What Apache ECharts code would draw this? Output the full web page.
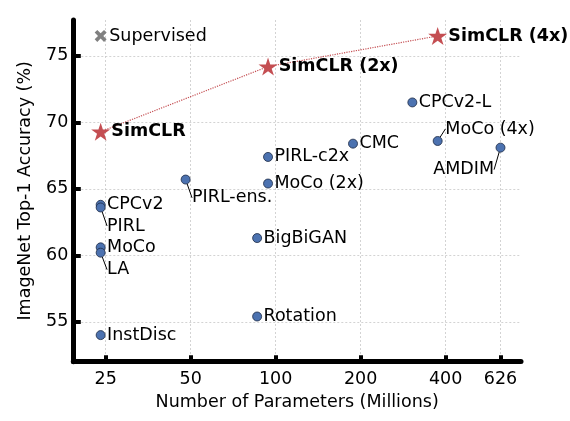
<!DOCTYPE html>
<html>
<head>
<meta charset="utf-8">
<script src="https://cdn.jsdelivr.net/npm/echarts@6/dist/echarts.min.js"></script>
<style>html,body{margin:0;padding:0;background:#fff}#c{width:570px;height:421px}</style>
</head>
<body>
<div id="c"></div>
<script>
// ---- data ----
const xTicks = [25, 50, 100, 200, 400, 626];
const yTicks = [55, 60, 65, 70, 75];

const simclrNames = ['SimCLR', 'SimCLR (2x)', 'SimCLR (4x)'];
const simclrParams = [24, 94, 375];
const simclrAcc = [69.3, 74.2, 76.5];

const supervisedNames = ['Supervised'];
const supervisedParams = [24];
const supervisedAcc = [76.5];

const otherNames = ['CPCv2-L', 'MoCo (4x)', 'AMDIM', 'CMC', 'PIRL-c2x', 'MoCo (2x)', 'PIRL-ens.',
  'BigBiGAN', 'Rotation', 'CPCv2', 'PIRL', 'MoCo', 'LA', 'InstDisc'];
const otherParams = [305, 375, 626, 188, 94, 94, 48, 86, 86, 24, 24, 24, 24, 24];
const otherAcc = [71.5, 68.6, 68.1, 68.4, 67.4, 65.4, 65.7, 61.3, 55.4, 63.8, 63.6, 60.6, 60.2, 54.0];

// ---- label styling (pixel shifts for callout labels) ----
const labelShift = {
  'PIRL': [0, 18.5],
  'LA': [0, 17],
  'PIRL-ens.': [0, 18.3],
  'MoCo (4x)': [1.3, -12],
  'AMDIM': [0, 22]
};
const labelLeft = { 'AMDIM': true };

const FONT = 'DejaVu Sans';
const FS = 17.5;
const RED = '#c44e52';
const BLUE = '#4c72b0';

const starPath = 'path://M50,0 L61.2,34.5 L97.6,34.5 L68.2,55.9 L79.4,90.5 L50,69.1 L20.6,90.5 L31.8,55.9 L2.4,34.5 L38.8,34.5 Z';
const xPath = 'path://M0,22 L22,0 L50,28 L78,0 L100,22 L72,50 L100,78 L78,100 L50,72 L22,100 L0,78 L28,50 Z';

const otherData = otherNames.map((n, i) => ({
  name: n,
  value: [otherParams[i], otherAcc[i]],
  label: { position: labelLeft[n] ? 'left' : 'right' },
  labelLine: { show: !!labelShift[n] }
}));

const chart = echarts.init(document.getElementById('c'), null, { renderer: 'canvas' });
chart.setOption({
  animation: false,
  textStyle: { fontFamily: FONT },
  grid: { left: 73.3, right: 49, top: 20, bottom: 59.3, outerBoundsMode: 'none' },
  xAxis: {
    type: 'log',
    logBase: 2,
    min: 19.2,
    max: 740,
    name: 'Number of Parameters (Millions)',
    nameLocation: 'middle',
    nameGap: 29,
    nameTextStyle: { fontFamily: FONT, fontSize: FS, color: '#000' },
    axisLine: { show: true, onZero: false, lineStyle: { color: '#000', width: 5 } },
    axisTick: { show: true, inside: true, length: 6.5, customValues: xTicks, lineStyle: { color: '#000', width: 4 } },
    axisLabel: { customValues: xTicks, margin: 9, fontFamily: FONT, fontSize: FS, color: '#000' },
    splitLine: { show: true, lineStyle: { color: '#c8c8c8', type: [2, 2], width: 0.8 } },
    minorTick: { show: false }
  },
  yAxis: {
    type: 'value',
    min: 52,
    max: 77.7,
    name: 'ImageNet Top-1 Accuracy (%)',
    nameLocation: 'middle',
    nameGap: 39,
    nameRotate: 90,
    nameTextStyle: { fontFamily: FONT, fontSize: FS, color: '#000' },
    axisLine: { show: true, onZero: false, lineStyle: { color: '#000', width: 5 } },
    axisTick: { show: true, inside: true, length: 7.5, customValues: yTicks, lineStyle: { color: '#000', width: 4 } },
    axisLabel: { customValues: yTicks, margin: 5, fontFamily: FONT, fontSize: FS, color: '#000' },
    splitLine: { show: true, lineStyle: { color: '#c8c8c8', type: [2, 2], width: 0.8 } }
  },
  series: [
    {
      type: 'scatter',
      name: 'others',
      z: 3,
      symbol: 'circle',
      symbolSize: 9,
      itemStyle: { color: BLUE, borderColor: '#1c2a44', borderWidth: 0.8, opacity: 1 },
      label: { show: true, formatter: '{b}', distance: 1.5, fontFamily: FONT, fontSize: FS, color: '#000' },
      labelLine: { lineStyle: { color: '#000', width: 1 } },
      labelLayout: function (p) {
        const s = labelShift[otherNames[p.dataIndex]];
        return s ? { dx: s[0], dy: s[1] } : {};
      },
      data: otherData
    },
    {
      type: 'scatter',
      name: 'supervised',
      z: 3,
      symbol: xPath,
      symbolSize: 12,
      itemStyle: { color: '#808080', opacity: 1 },
      label: { show: true, position: 'right', formatter: '{b}', distance: 2.6, fontFamily: FONT, fontSize: FS, color: '#000' },
      data: supervisedNames.map((n, i) => ({ name: n, value: [supervisedParams[i], supervisedAcc[i]] }))
    },
    {
      type: 'line',
      name: 'simclr',
      z: 4,
      symbol: starPath,
      symbolSize: 19,
      symbolKeepAspect: true,
      showSymbol: true,
      showAllSymbol: true,
      itemStyle: { color: RED, opacity: 1 },
      lineStyle: { color: RED, width: 1.2, type: 'dotted' },
      label: { show: true, position: 'right', formatter: '{b}', distance: 1.2, fontFamily: FONT, fontSize: FS, fontWeight: 'bold', color: '#000' },
      data: simclrNames.map((n, i) => ({ name: n, value: [simclrParams[i], simclrAcc[i]] }))
    }
  ]
});
</script>
</body>
</html>
